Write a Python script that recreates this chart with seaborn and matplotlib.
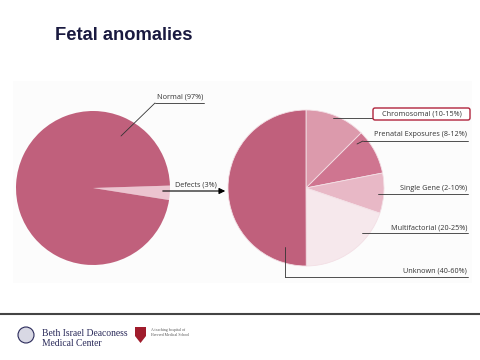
import numpy as np
import seaborn as sns
import matplotlib.pyplot as plt
from matplotlib.patches import Rectangle, FancyBboxPatch, Polygon, Circle

# --- Data ---
LEFT_LABELS = ['Defects (3%)', 'Normal (97%)']
LEFT_VALUES = [3, 97]

RIGHT_LABELS = ['Chromosomal (10-15%)', 'Prenatal Exposures (8-12%)', 'Single Gene (2-10%)',
                'Multifactorial (20-25%)', 'Unknown (40-60%)']
RIGHT_VALUES = [12.5, 9.4, 8.3, 19.7, 50.0]

TITLE = "Fetal anomalies"

# --- Colours ---
MAIN_PINK = '#c0607c'
LEFT_COLORS = ['#ecc4d0', MAIN_PINK]
RIGHT_COLORS = ['#dc9aac', '#cf7590', '#e8b8c6', '#f6e8ec', MAIN_PINK]
TITLE_COLOR = '#1a1a40'
LINE_COLOR = '#333333'

W, H = 480, 360


def Y(y):
    """Pixel row (from top) to axes y."""
    return H - y


sns.set_style('white')
plt.rcParams['font.family'] = ['Open Sans', 'DejaVu Sans']

fig = plt.figure(figsize=(4.8, 3.6), dpi=100)
ax = fig.add_axes([0, 0, 1, 1])

# faint panel behind the pies
ax.add_patch(Rectangle((13, Y(283)), 459, 202, facecolor='#fcfcfc', edgecolor='none', zorder=0))

# --- Pies ---
ax.pie(LEFT_VALUES, colors=LEFT_COLORS, startangle=-9, counterclock=True,
       center=(93, Y(188)), radius=77, wedgeprops=dict(linewidth=0))
ax.pie(RIGHT_VALUES, colors=RIGHT_COLORS, startangle=90, counterclock=False,
       center=(306, Y(188)), radius=78,
       wedgeprops=dict(linewidth=0.6, edgecolor='#f3dfe5'))

ax.set_xlim(0, W)
ax.set_ylim(0, H)
ax.set_aspect('auto')
ax.axis('off')

lab_kw = dict(fontsize=5.2, color='#333333')

# --- Left pie labels ---
ax.text(157, Y(97), LEFT_LABELS[1], ha='left', va='center', **lab_kw)
ax.plot([155, 204], [Y(103), Y(103)], color=LINE_COLOR, lw=0.6)
ax.plot([155, 121], [Y(103), Y(136)], color=LINE_COLOR, lw=0.6)

ax.text(175, Y(185), LEFT_LABELS[0], ha='left', va='center', **lab_kw)
ax.annotate('', xy=(228, Y(191)), xytext=(160, Y(191)),
            arrowprops=dict(arrowstyle='-|>', color='black', lw=0.8, mutation_scale=9))

# --- Right pie labels ---
ax.add_patch(FancyBboxPatch((373, Y(120)), 97, 12, boxstyle='round,pad=0,rounding_size=2',
                            facecolor='white', edgecolor='#b0243c', lw=1.0, zorder=3))
ax.text(421.5, Y(114), RIGHT_LABELS[0], ha='center', va='center', zorder=4, **lab_kw)
ax.plot([333, 373], [Y(118), Y(118)], color=LINE_COLOR, lw=0.6)

right_rows = [
    # label index, text y, underline y, underline start x, leader end
    (1, 135, 141, 363, (357, 144)),
    (2, 188, 194, 378, None),
    (3, 228, 233, 362, None),
    (4, 271, 277, 285, (285, 247)),
]
for idx, ty, uy, x0, lead in right_rows:
    ax.text(467, Y(ty), RIGHT_LABELS[idx], ha='right', va='center', **lab_kw)
    ax.plot([x0, 468], [Y(uy), Y(uy)], color=LINE_COLOR, lw=0.6)
    if lead is not None:
        ax.plot([x0, lead[0]], [Y(uy), Y(lead[1])], color=LINE_COLOR, lw=0.6)

# --- Title ---
ax.text(55, Y(35), TITLE, ha='left', va='center', fontsize=13.2, fontweight='bold',
        color=TITLE_COLOR, family=['Liberation Sans', 'DejaVu Sans'])

# --- Footer ---
ax.plot([0, W], [Y(314), Y(314)], color='#444444', lw=1.5)
ax.add_patch(Circle((26, Y(335)), 8, facecolor='#d8d8e4', edgecolor='#2a2a5a', lw=0.8))
ax.text(42, Y(333), 'Beth Israel Deaconess', ha='left', va='center', fontsize=6.9,
        color='#2a2a5a', family=['Liberation Serif', 'DejaVu Serif'])
ax.text(42, Y(343), 'Medical Center', ha='left', va='center', fontsize=6.9,
        color='#2a2a5a', family=['Liberation Serif', 'DejaVu Serif'])
ax.add_patch(Polygon([(135, Y(327)), (146, Y(327)), (146, Y(336)), (140.5, Y(343)), (135, Y(336))],
                     closed=True, facecolor='#a01c2c', edgecolor='none'))
ax.text(151, Y(330), 'A teaching hospital of', ha='left', va='center', fontsize=2.8,
        color='#555555', family=['Liberation Serif', 'DejaVu Serif'])
ax.text(151, Y(335.5), 'Harvard Medical School', ha='left', va='center', fontsize=2.8,
        color='#555555', family=['Liberation Serif', 'DejaVu Serif'])

fig.savefig('out.png', dpi=100, facecolor='white')
plt.close(fig)
